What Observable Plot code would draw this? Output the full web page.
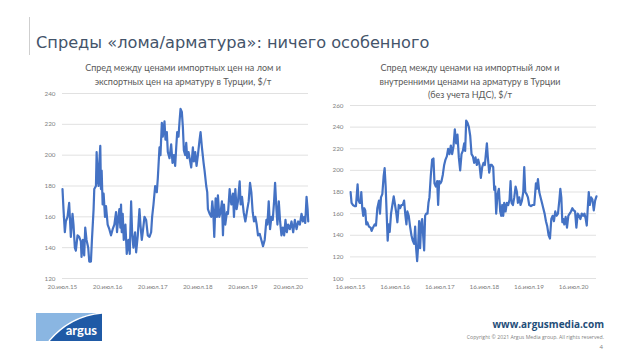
<!DOCTYPE html>
<html><head><meta charset="utf-8">
<script src="https://cdn.jsdelivr.net/npm/d3@7"></script>
<script src="https://cdn.jsdelivr.net/npm/@observablehq/plot@0.6"></script>
<style>
html,body{margin:0;padding:0;background:#fff}
body{width:640px;height:360px;position:relative;overflow:hidden;font-family:"DejaVu Sans",sans-serif}
.abs{position:absolute}
.ct{position:absolute;font-family:Lato,"Open Sans",sans-serif;font-size:9px;line-height:13.5px;color:#595959;text-align:center;white-space:nowrap}
</style></head>
<body>
<div class="abs" style="left:29px;top:17px;width:1px;height:38px;background:#cfcfcf"></div>
<div id="title" class="abs" style="left:36px;top:33px;font-size:16.2px;line-height:20px;color:#44546A;white-space:nowrap">Спреды «лома/арматура»: ничего особенного</div>
<div class="ct" style="left:83px;width:200px;top:61px">Спред между ценами импортных цен на лом и<br>экспортных цен на арматуру в Турции, $/т</div>
<div class="ct" style="left:370px;width:200px;top:61px">Спред между ценами на импортный лом и<br>внутренними ценами на арматуру в Турции<br>(без учета НДС), $/т</div>
<div id="left" class="abs" style="left:0px;top:85px"></div>
<div id="right" class="abs" style="left:320px;top:100px"></div>
<svg class="abs" style="left:36px;top:313px" width="66" height="28">
  <rect width="66" height="28" fill="#1f5aa6"/>
  <path d="M0,0 H66 Q34,3 13,28 H0 Z" fill="#8ab6e2"/>
  <path d="M13,28 Q34,3 66,0" stroke="#fff" stroke-width="1.4" fill="none"/>
  <text x="61" y="22" fill="#fff" font-family="Lato,'Open Sans',sans-serif" font-weight="bold" font-size="13" text-anchor="end">argus</text>
</svg>
<div class="abs" style="right:36px;top:317px;font-family:'Open Sans',sans-serif;font-weight:bold;font-size:10px;color:#1f4e79;white-space:nowrap">www.argusmedia.com</div>
<div class="abs" style="right:36px;top:333px;font-family:'Open Sans',sans-serif;font-size:5.2px;color:#7f7f7f;white-space:nowrap">Copyright © 2021 Argus Media group. All rights reserved.</div>
<div class="abs" style="right:37px;top:343px;font-family:'Open Sans',sans-serif;font-size:6px;color:#7f7f7f">4</div>
<script>
// ---- Left chart: import scrap vs export rebar spread, $/t ----
const leftT = [2015.550,2015.572,2015.602,2015.624,2015.661,2015.698,2015.735,2015.772,2015.794,2015.824,2015.846,2015.883,2015.920,2015.957,2015.972,2016.002,2016.031,2016.054,2016.083,2016.120,2016.143,2016.180,2016.202,2016.239,2016.254,2016.291,2016.306,2016.328,2016.350,2016.365,2016.387,2016.402,2016.417,2016.439,2016.461,2016.491,2016.513,2016.550,2016.587,2016.624,2016.661,2016.698,2016.735,2016.757,2016.787,2016.809,2016.831,2016.846,2016.861,2016.883,2016.906,2016.943,2016.972,2017.009,2017.039,2017.069,2017.091,2017.120,2017.157,2017.180,2017.217,2017.254,2017.276,2017.306,2017.335,2017.365,2017.402,2017.439,2017.476,2017.513,2017.535,2017.565,2017.602,2017.639,2017.661,2017.698,2017.720,2017.750,2017.772,2017.809,2017.831,2017.861,2017.883,2017.920,2017.957,2017.987,2018.017,2018.046,2018.069,2018.091,2018.120,2018.143,2018.165,2018.194,2018.217,2018.239,2018.269,2018.291,2018.313,2018.343,2018.372,2018.402,2018.439,2018.461,2018.491,2018.520,2018.550,2018.587,2018.609,2018.639,2018.676,2018.698,2018.735,2018.757,2018.772,2018.809,2018.846,2018.869,2018.891,2018.913,2018.943,2018.972,2018.994,2019.024,2019.054,2019.083,2019.106,2019.128,2019.157,2019.194,2019.217,2019.254,2019.291,2019.328,2019.350,2019.380,2019.409,2019.439,2019.476,2019.498,2019.528,2019.565,2019.602,2019.646,2019.676,2019.706,2019.735,2019.765,2019.794,2019.824,2019.854,2019.883,2019.920,2019.957,2019.994,2020.031,2020.069,2020.091,2020.120,2020.150,2020.180,2020.209,2020.239,2020.261,2020.291,2020.313,2020.343,2020.372,2020.402,2020.431,2020.461,2020.491,2020.520,2020.550,2020.587,2020.624,2020.661,2020.698,2020.735,2020.772,2020.809,2020.846,2020.876,2020.906,2020.928,2020.957,2020.980,2020.994];
const leftV = [178,165,150,157,160,169,147,162,155,140,138,148,147,144,134,145,135,153,145,140,131,131,145,165,178,180,202,185,180,195,206,178,190,168,175,160,167,155,152,148,152,155,163,150,160,165,153,168,150,162,145,155,136,145,136,170,150,140,150,137,148,165,155,145,152,160,158,148,147,150,160,168,180,176,185,205,200,221,212,222,210,215,202,198,207,195,200,193,205,215,212,222,230,228,218,203,200,208,198,202,197,192,205,196,202,193,200,210,215,205,195,190,180,176,165,162,160,170,163,147,172,160,174,160,163,170,148,168,155,163,162,178,168,175,160,178,165,170,183,168,173,163,157,165,170,182,176,163,157,160,155,148,149,145,141,145,158,155,170,152,160,158,170,182,165,155,170,157,148,153,148,158,150,155,152,157,150,158,152,157,155,162,157,160,156,173,165,157];
const leftYTicks = [120,140,160,180,200,220,240];
const leftXTicks = ["2015-07-20","2016-07-20","2017-07-20","2018-07-20","2019-07-20","2020-07-20"];
const leftXLabels = ["20.июл.15","20.июл.16","20.июл.17","20.июл.18","20.июл.19","20.июл.20"];

// ---- Right chart: import scrap vs domestic rebar spread (ex VAT), $/t ----
const rightT = [2015.540,2015.562,2015.592,2015.630,2015.660,2015.675,2015.697,2015.720,2015.742,2015.765,2015.780,2015.802,2015.824,2015.847,2015.869,2015.892,2015.914,2015.952,2015.989,2016.012,2016.041,2016.079,2016.109,2016.139,2016.176,2016.199,2016.221,2016.251,2016.281,2016.303,2016.326,2016.348,2016.371,2016.393,2016.416,2016.446,2016.476,2016.506,2016.536,2016.565,2016.588,2016.618,2016.648,2016.678,2016.708,2016.738,2016.768,2016.790,2016.812,2016.842,2016.872,2016.902,2016.932,2016.962,2016.985,2017.007,2017.030,2017.052,2017.074,2017.097,2017.119,2017.142,2017.164,2017.187,2017.209,2017.232,2017.262,2017.284,2017.306,2017.336,2017.366,2017.396,2017.419,2017.449,2017.479,2017.501,2017.524,2017.553,2017.576,2017.606,2017.636,2017.666,2017.696,2017.726,2017.756,2017.786,2017.815,2017.845,2017.875,2017.905,2017.935,2017.965,2017.995,2018.025,2018.055,2018.085,2018.107,2018.130,2018.160,2018.190,2018.220,2018.250,2018.280,2018.309,2018.339,2018.369,2018.399,2018.429,2018.459,2018.489,2018.519,2018.549,2018.571,2018.594,2018.616,2018.646,2018.676,2018.706,2018.736,2018.759,2018.781,2018.803,2018.833,2018.863,2018.893,2018.916,2018.938,2018.961,2018.983,2019.013,2019.043,2019.073,2019.103,2019.125,2019.148,2019.178,2019.208,2019.238,2019.268,2019.290,2019.320,2019.350,2019.380,2019.410,2019.432,2019.455,2019.485,2019.515,2019.544,2019.582,2019.619,2019.657,2019.694,2019.717,2019.739,2019.769,2019.799,2019.829,2019.859,2019.889,2019.919,2019.949,2019.979,2020.009,2020.039,2020.068,2020.098,2020.128,2020.158,2020.188,2020.218,2020.241,2020.263,2020.286,2020.308,2020.330,2020.360,2020.390,2020.420,2020.450,2020.480,2020.510,2020.540,2020.570,2020.600,2020.630,2020.660,2020.690,2020.720,2020.750,2020.780,2020.809,2020.832,2020.854,2020.877,2020.899,2020.929,2020.959,2020.989,2021.019,2021.049];
const rightV = [180,170,168,167,167,175,187,172,170,170,180,165,158,165,163,150,152,148,147,144,147,150,149,165,172,160,175,178,195,202,185,160,135,150,143,160,168,176,168,160,152,168,165,168,168,172,158,150,162,158,148,140,135,132,148,128,116,130,153,128,150,155,140,126,158,160,160,170,175,195,210,211,188,185,190,168,190,188,190,196,205,210,213,220,215,223,215,222,238,225,233,212,200,215,218,225,218,246,244,240,232,215,213,207,212,205,210,205,193,203,207,205,215,225,212,198,205,205,203,182,185,160,178,183,162,158,168,158,170,162,170,168,173,190,170,168,175,185,180,170,175,168,172,180,203,180,178,175,168,167,168,168,188,183,192,180,175,170,165,160,153,148,140,137,155,158,153,162,158,160,172,183,175,152,155,150,157,147,158,160,162,165,163,162,147,160,158,155,160,158,160,155,149,165,180,168,175,173,163,172,176];
const rightYTicks = [100,120,140,160,180,200,220,240,260];
const rightXTicks = ["2015-07-16","2016-07-16","2017-07-16","2018-07-16","2019-07-16","2020-07-16"];
const rightXLabels = ["16.июл.15","16.июл.16","16.июл.17","16.июл.18","16.июл.19","16.июл.20"];

const lineColor = "#4472C4";
const gridColor = "#d9d9d9";
const tickColor = "#7f7f7f";

function yearToDate(t){
  const y = Math.floor(t);
  const a = Date.UTC(y,0,1), b = Date.UTC(y+1,0,1);
  return new Date(a + (t - y) * (b - a));
}

function makeChart({T, V, yTicks, xTicks, xLabels, xDomain, width, height, mL, mR, mT, mB}){
  const data = T.map((t,i)=>({date: yearToDate(t), value: V[i]}));
  const tickDates = xTicks.map(s => new Date(s + "T00:00:00Z"));
  const labelOf = new Map(tickDates.map((d,i)=>[+d, xLabels[i]]));
  return Plot.plot({
    width, height,
    marginLeft: mL, marginRight: mR, marginTop: mT, marginBottom: mB,
    style: {fontFamily: "Lato, 'Open Sans', sans-serif", fontSize: "6.3px", color: tickColor, background: "transparent"},
    x: {type: "utc", domain: xDomain.map(yearToDate)},
    y: {domain: [yTicks[0], yTicks[yTicks.length-1]]},
    marks: [
      Plot.gridY(yTicks, {stroke: gridColor, strokeOpacity: 1, strokeWidth: 0.8}),
      Plot.axisY({ticks: yTicks, tickSize: 0, tickPadding: 7, label: null, fill: tickColor}),
      Plot.axisX({ticks: tickDates, tickSize: 0, tickPadding: 6, label: null, fill: tickColor,
        tickFormat: d => labelOf.get(+d)}),
      Plot.line(data, {x: "date", y: "value", stroke: lineColor, strokeWidth: 2.2, strokeLinejoin: "round"})
    ]
  });
}

document.getElementById("left").append(makeChart({
  T: leftT, V: leftV, yTicks: leftYTicks, xTicks: leftXTicks, xLabels: leftXLabels,
  xDomain: [2015.55, 2021.0], width: 320, height: 210, mL: 62, mR: 12, mT: 8, mB: 17
}));
document.getElementById("right").append(makeChart({
  T: rightT, V: rightV, yTicks: rightYTicks, xTicks: rightXTicks, xLabels: rightXLabels,
  xDomain: [2015.538, 2021.05], width: 290, height: 195, mL: 30, mR: 14, mT: 5, mB: 17
}));
</script>
</body></html>
